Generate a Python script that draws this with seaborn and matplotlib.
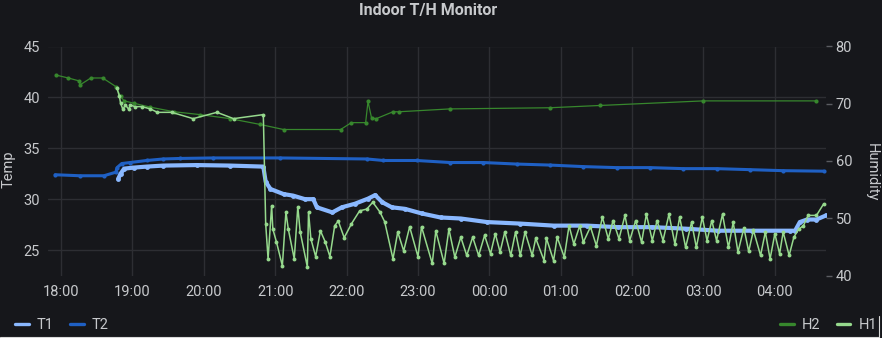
import matplotlib
matplotlib.use("Agg")
import matplotlib.pyplot as plt
import matplotlib.dates as mdates
from matplotlib.lines import Line2D
import pandas as pd
import seaborn as sns

# ---- data ----
t1_time = ["18:48", "18:50", "18:53", "19:01", "19:12", "19:26", "19:54", "20:22", "20:50",
           "20:52", "20:56", "21:07", "21:15", "21:25", "21:32", "21:35", "21:48", "21:56", "22:07",
           "22:18", "22:24", "22:30", "22:38", "22:49", "23:03", "23:19", "23:36", "23:58", "00:26",
           "00:54", "01:22", "01:48", "02:17", "02:45", "03:12", "03:41", "04:13", "04:17", "04:21",
           "04:27", "04:35", "04:43"]
t1_temp = [32.0, 32.5, 33.0, 33.1, 33.2, 33.3, 33.35, 33.3, 33.2,
           31.7, 31.0, 30.5, 30.35, 30.0, 30.0, 29.2, 28.7, 29.2, 29.55,
           30.05, 30.4, 29.7, 29.2, 29.05, 28.6, 28.2, 28.1, 27.75, 27.6,
           27.4, 27.4, 27.25, 27.25, 27.1, 26.9, 26.9, 26.9, 26.9, 27.75,
           28.0, 28.0, 28.4]

t2_time = ["17:55", "18:16", "18:36", "18:46", "18:47", "18:51", "18:58", "19:12", "19:26", "19:40",
           "20:08", "21:04", "22:17", "22:31", "22:59", "23:27", "23:55", "00:23", "00:51", "01:19",
           "01:47", "02:15", "02:43", "03:11", "03:39", "04:07", "04:41"]
t2_temp = [32.4, 32.3, 32.3, 32.65, 33.1, 33.5, 33.6, 33.8, 33.95, 34.0,
           34.05, 34.05, 33.95, 33.8, 33.8, 33.6, 33.6, 33.45, 33.35, 33.2,
           33.1, 33.1, 33.0, 33.0, 32.9, 32.8, 32.75]

h2_time = ["17:56", "18:06", "18:15", "18:16", "18:25", "18:35", "18:46", "18:50", "18:53", "19:01",
           "19:15", "19:35", "19:57", "20:22", "20:47", "21:07", "21:55", "22:04", "22:16", "22:18",
           "22:21", "22:25", "22:39", "22:44", "23:27", "00:51", "01:33", "03:00", "04:35"]
h2_hum = [75.0, 74.5, 74.0, 73.3, 74.5, 74.5, 73.0, 71.3, 70.5, 70.1,
          69.4, 68.6, 68.1, 67.4, 66.4, 65.5, 65.5, 66.7, 66.7, 70.4,
          67.5, 67.4, 68.6, 68.6, 69.1, 69.3, 69.7, 70.5, 70.5]

h1_time = ["18:47", "18:49", "18:50", "18:52", "18:54", "18:57", "18:58", "19:02", "19:08", "19:15",
           "19:21", "19:33", "19:51", "20:11", "20:25", "20:50",
           "20:52", "20:54", "20:57", "20:58", "21:01", "21:06", "21:09", "21:11", "21:16", "21:19",
           "21:21", "21:27", "21:28", "21:30", "21:34", "21:38", "21:42", "21:46", "21:50", "21:53",
           "21:58", "22:04", "22:11", "22:17", "22:22", "22:28", "22:32", "22:39", "22:43", "22:48",
           "22:53", "23:00", "23:03",
           "23:12", "23:15", "23:22", "23:26", "23:31", "23:36", "23:41", "23:46", "23:51", "23:56",
           "00:01", "00:05", "00:09", "00:13", "00:18", "00:22", "00:26", "00:30", "00:36", "00:39",
           "00:46", "00:48", "00:54", "00:57", "01:03", "01:07", "01:11", "01:16", "01:19", "01:25",
           "01:30", "01:35", "01:40", "01:44", "01:49", "01:54", "01:58", "02:03", "02:08", "02:12",
           "02:17", "02:21", "02:26", "02:31", "02:36", "02:40", "02:45", "02:50", "02:54", "02:59",
           "03:03", "03:07", "03:11", "03:16", "03:21", "03:25", "03:29", "03:34", "03:38", "03:42",
           "03:48", "03:52", "03:56", "04:00", "04:04", "04:07", "04:12", "04:16", "04:20", "04:24",
           "04:28", "04:35", "04:41"]
h1_hum = [72.7, 71.3, 70.1, 69.0, 69.8, 69.0, 69.8, 69.5, 69.5, 69.1,
          68.5, 68.5, 67.4, 68.5, 67.4, 68.1,
          49.0, 42.9, 52.2, 48.1, 45.9, 41.7, 51.1, 48.1, 42.9, 52.0,
          47.6, 41.5, 51.1, 46.4, 43.3, 47.8, 45.9, 43.3, 48.7, 49.5,
          46.6, 49.0, 51.3, 51.6, 52.8, 51.1, 49.4, 42.9, 47.6, 44.3,
          48.5, 43.3, 48.5,
          42.1, 47.8, 42.1, 48.1, 43.2, 46.7, 43.5, 46.7, 43.5, 47.0,
          43.8, 47.3, 44.1, 47.6, 43.5, 47.6, 43.5, 47.6, 43.5, 46.5,
          42.6, 46.5, 42.6, 46.7, 43.2, 48.7, 45.5, 48.7, 45.8, 48.5,
          45.2, 50.2, 46.4, 49.6, 46.4, 50.5, 46.1, 49.6, 45.8, 50.7,
          46.1, 49.6, 46.1, 50.7, 45.5, 50.2, 44.9, 49.3, 44.9, 50.2,
          46.1, 49.6, 46.1, 50.7, 44.9, 49.3, 44.1, 48.3, 44.2, 47.9,
          43.5, 47.6, 42.9, 47.3, 43.8, 47.6, 43.5, 46.7, 48.1, 48.7,
          50.5, 50.5, 52.5]

BG = "#16171b"
TXT = "#c7c9cc"
GRID = "#2d2e33"
C_T1, C_T2 = "#8ab8ff", "#1f60c4"
C_H1, C_H2 = "#96d98d", "#37872d"


def to_dt(hhmm):
    h, m = map(int, hhmm.split(":"))
    day = 1 if h < 12 else 0
    return pd.Timestamp("2021-06-01") + pd.Timedelta(days=day, hours=h, minutes=m)


def frame(times, vals):
    return pd.DataFrame({"time": [to_dt(t) for t in times], "value": vals})


sns.set_style("dark")
plt.rcParams["font.family"] = ["Roboto", "DejaVu Sans"]

fig = plt.figure(figsize=(8.82, 3.38), dpi=100, facecolor=BG)
W, H = 882, 338
ax = fig.add_axes([48 / W, 1 - 275.5 / H, (826 - 48) / W, (275.5 - 46.5) / H])
ax.set_facecolor(BG)
ax2 = ax.twinx()
ax2.patch.set_visible(False)

sns.lineplot(data=frame(t2_time, t2_temp), x="time", y="value", ax=ax, color=C_T2,
             lw=2.2, marker="o", markersize=3, markeredgewidth=0)
sns.lineplot(data=frame(t1_time, t1_temp), x="time", y="value", ax=ax, color=C_T1,
             lw=3.0, marker="o", markersize=3.5, markeredgewidth=0)
sns.lineplot(data=frame(h2_time, h2_hum), x="time", y="value", ax=ax2, color=C_H2,
             lw=0.9, marker="o", markersize=3, markeredgewidth=0)
sns.lineplot(data=frame(h1_time, h1_hum), x="time", y="value", ax=ax2, color=C_H1,
             lw=1.1, marker="o", markersize=2.8, markeredgewidth=0)

ax.set_xlim(to_dt("17:49"), to_dt("04:43"))
ax.set_ylim(22.5, 45)
ax2.set_ylim(40, 80)
ax.set_yticks([25, 30, 35, 40, 45])
ax2.set_yticks([40, 50, 60, 70, 80])
ax.xaxis.set_major_locator(mdates.HourLocator())
ax.xaxis.set_major_formatter(mdates.DateFormatter("%H:%M"))

ax.grid(True, color=GRID, lw=1)
ax2.grid(False)
for a in (ax, ax2):
    for s in a.spines.values():
        s.set_visible(False)

ax.tick_params(axis="both", colors=TXT, labelsize=10.5, length=0)
ax.tick_params(axis="x", pad=7)
ax.tick_params(axis="y", pad=6)
ax2.tick_params(axis="y", colors="#5a5c61", labelcolor=TXT, labelsize=10.5,
                length=4, width=1, pad=3)

ax.set_xlabel("")
ax.set_ylabel("Temp", color=TXT, fontsize=10.5)
ax2.set_ylabel("Humidity", color=TXT, fontsize=10.5, rotation=270)
ax.yaxis.label.set(va="center", ha="center", rotation_mode="default")
ax2.yaxis.label.set(va="center", ha="center", rotation_mode="default")
ax.yaxis.set_label_coords(-0.0501, 0.465)
ax2.yaxis.set_label_coords(1.059, 0.452)

fig.text(428 / W, 1 - 10 / H, "Indoor T/H Monitor", color=TXT, fontsize=11.5,
         fontweight="bold", ha="center", va="center")

left_handles = [Line2D([], [], color=C_T1, lw=2.4), Line2D([], [], color=C_T2, lw=2.4)]
right_handles = [Line2D([], [], color=C_H2, lw=2.4), Line2D([], [], color=C_H1, lw=2.4)]
kw = dict(frameon=False, ncol=2, fontsize=10.5, labelcolor=TXT, borderpad=0, borderaxespad=0,
          handlelength=0.95, handletextpad=0.55, columnspacing=1.1)
fig.legend(left_handles, ["T1", "T2"], loc="center left", bbox_to_anchor=(15 / W, 1 - 325 / H), **kw)
fig.legend(right_handles, ["H2", "H1"], loc="center right", bbox_to_anchor=(877 / W, 1 - 325 / H), **kw)

# selection border visible in the screenshot
fig.add_artist(Line2D([0, 879 / W], [0.6 / H, 0.6 / H], transform=fig.transFigure, color="#d8d8d8", lw=0.8))
fig.add_artist(Line2D([879 / W, 879 / W], [0, 22 / H], transform=fig.transFigure, color="#d8d8d8", lw=0.8))

fig.savefig("out.png", dpi=100, facecolor=BG)
